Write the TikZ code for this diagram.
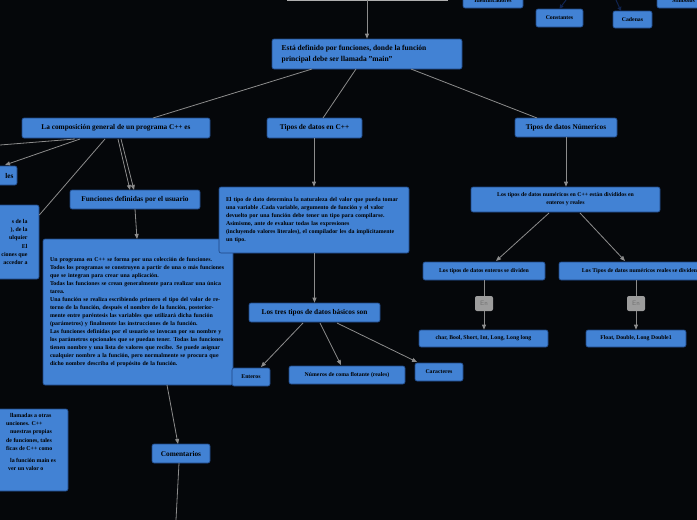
\documentclass[tikz,border=0pt]{standalone}
\usepackage{fontspec}
\setmainfont{Liberation Serif}
\usetikzlibrary{arrows.meta}
\definecolor{bg}{RGB}{5,7,10}
\definecolor{boxc}{RGB}{66,130,212}
\definecolor{boxd}{RGB}{30,70,130}
\definecolor{ln}{RGB}{140,140,140}
\definecolor{navy}{RGB}{15,35,80}
\tikzset{
 bx/.style={draw=boxd,fill=boxc,rounded corners=2pt,line width=0.6pt,font=\bfseries\fontsize{7.3}{9}\selectfont,text=black,inner sep=0pt},
 sm/.style={bx,font=\bfseries\fontsize{5.8}{7}\selectfont},
 tx/.style={bx,font=\bfseries\fontsize{5.9}{8.05}\selectfont,align=left},
 en/.style={draw=none,fill=ln!85,rounded corners=2pt,font=\sffamily\fontsize{6.5}{7}\selectfont,text=black!55,minimum width=18pt,minimum height=15pt,inner sep=0pt},
 ar/.style={draw=ln,line width=0.8pt,-{Triangle[length=5pt,width=4pt]}},
 pl/.style={draw=ln,line width=0.8pt},
}
\newcommand{\bxat}[6]{\node[#6,minimum width={#3-#1},minimum height={#4-#2}] (#5) at ({(#1+#3)/2},{(#2+#4)/2})}
\begin{document}
\begin{tikzpicture}[x=1pt,y=-1pt]
\fill[bg] (0,0) rectangle (697,520);
\useasboundingbox (0,0) rectangle (697,520);
% top
\draw[draw=ln!70,line width=1.5pt] (287,0) -- (448,0);
\coordinate (topc) at (367,0);
\bxat{463}{-10}{523}{8}{ident}{sm}{\raisebox{-7pt}{Identificadores}};
\bxat{536}{9}{583}{27}{const}{sm}{Constantes};
\bxat{613}{11}{652}{28}{cad}{sm}{Cadenas};
\bxat{657}{-10}{710}{8}{simb}{sm}{\raisebox{-7pt}{Símbolos}};
\coordinate (cs) at (566,0); \coordinate (cd) at (616,0);
\draw[navy,line width=1pt,-{Triangle[length=4pt,width=4pt]}] (cs) -- (const.north);
\draw[navy,line width=1pt,-{Triangle[length=4pt,width=4pt]}] (cd) -- (621,11);
% main
\bxat{272}{39}{462}{69}{main}{bx,font=\bfseries\fontsize{7.5}{10.5}\selectfont,align=left}{Está definido por funciones, donde la función\\principal debe ser llamada "main"\hspace*{60pt}};
\draw[ar] (topc) -- (main.north);
\bxat{22}{118}{210}{138}{comp}{bx}{La composición general de un programa C++ es};
\bxat{267}{118}{362}{138}{tipos}{bx}{Tipos de datos en C++};
\bxat{515}{118}{617}{137}{tnum}{bx}{Tipos de datos Númericos};
\draw[pl] (312,69) -- (153,118);
\draw[pl] (356,69) -- (323,118);
\draw[pl] (411,69) -- (537,118);
% left side
\bxat{-10}{166}{17}{185}{les}{bx}{\hspace*{12pt}les};
\bxat{-10}{205}{39}{279}{lbox}{tx,align=right}{s de la\\), de la\\ulquier\\El\hspace*{8pt}\\ciones que\\accedor a};
\bxat{-10}{409}{68}{491}{lbox2}{tx}{\hspace*{8pt}llamadas a otras\\\hspace*{4pt}unciones. C++\\\hspace*{8pt}nuestras propias\\\hspace*{4pt}de funciones, tales\\\hspace*{4pt}ficas de C++ como\\[4pt]\hspace*{8pt}la función main es\\\hspace*{6pt}ver un valor o\\ \\};
\coordinate (lft) at (0,145);
\draw[pl] (75,139) -- (lft);
\draw[ar] (80,139) -- (5,165);
\draw[pl] (105,139) -- (lbox.east|-0,215);
\bxat{70}{190}{200}{209}{fun}{bx}{Funciones definidas por el usuario};
\draw[ar] (118,139) -- (130,190);
\draw[ar] (121,139) -- (134,190);
\bxat{43}{239}{233}{385}{big}{tx,text width=176pt}{Un programa en C++ se forma por una colección de funciones.\\Todos los programas se construyen a partir de una o más funciones que se integran para crear una aplicación.\\Todas las funciones se crean generalmente para realizar una única tarea.\\Una función se realiza escribiendo primero el tipo del valor de retorno de la función, después el nombre de la función, posteriormente entre paréntesis las variables que utilizará dicha función (parámetros) y finalmente las instrucciones de la función.\\Las funciones definidas por el usuario se invocan por su nombre y los parámetros opcionales que se puedan tener. Todas las funciones tienen nombre y una lista de valores que recibe. Se puede asignar cualquier nombre a la función, pero normalmente se procura que dicho nombre describa el propósito de la función.};
\draw[ar] (135,209) -- (137,239);
\bxat{152}{444}{210}{463}{com}{bx}{Comentarios};
\draw[ar] (167,385) -- (178,444);
\coordinate (bot) at (176,520);
\draw[pl] (179,463) -- (bot);
% tipos
\bxat{219}{187}{409}{253}{td}{tx,text width=176pt}{El tipo de dato determina la naturaleza del valor que pueda tomar una variable .Cada variable, argumento de función y el valor devuelto por una función debe tener un tipo para compilarse. Asimismo, ante de evaluar todas las expresiones\\(incluyendo valores literales), el compilador les da implícitamente un tipo.};
\draw[ar] (tipos.south-|td.north) ++(0,0) -- (td.north);
\bxat{249}{303}{380}{322}{tres}{bx}{Los tres tipos de datos básicos son};
\draw[ar] (td.south-|tres.north) -- (tres.north);
\bxat{232}{368}{270}{386}{ent}{sm}{Enteros};
\bxat{289}{366}{405}{384}{coma}{sm}{Números de coma flotante (reales)};
\bxat{415}{363}{463}{381}{car}{sm}{Caracteres};
\draw[ar] (303,323) -- (261,367);
\draw[ar] (320,323) -- (341,365);
\draw[ar] (337,323) -- (417,362);
% numericos
\bxat{471}{187}{660}{212}{nt}{tx,align=center,font=\bfseries\fontsize{5.8}{8}\selectfont}{Los tipos de datos numéricos en C++ están divididos en\\enteros y reales};
\draw[ar] (tnum.south) -- (tnum.south|-nt.north);
\bxat{423}{262}{545}{280}{ediv}{sm}{Los tipos de datos enteros se dividen};
\bxat{559}{262}{720}{280}{rdiv}{sm}{Los Tipos de datos numéricos reales se dividen};
\draw[ar] (549,213) -- (496,261);
\draw[ar] (580,213) -- (625,261);
\node[en] (en1) at (484,303.5) {En};
\node[en] (en2) at (636,303.5) {En};
\bxat{419}{330}{548}{347}{chb}{sm}{char, Bool, Short, Int, Long, Long long};
\bxat{586}{330}{686}{347}{flb}{sm}{Float, Double, Long Double1};
\draw[pl] (ediv.south-|en1) -- (en1.north);
\draw[ar] (en1.south) -- (en1.south|-chb.north);
\draw[pl] (rdiv.south-|en2) -- (en2.north);
\draw[ar] (en2.south) -- (en2.south|-flb.north);
\end{tikzpicture}
\end{document}
